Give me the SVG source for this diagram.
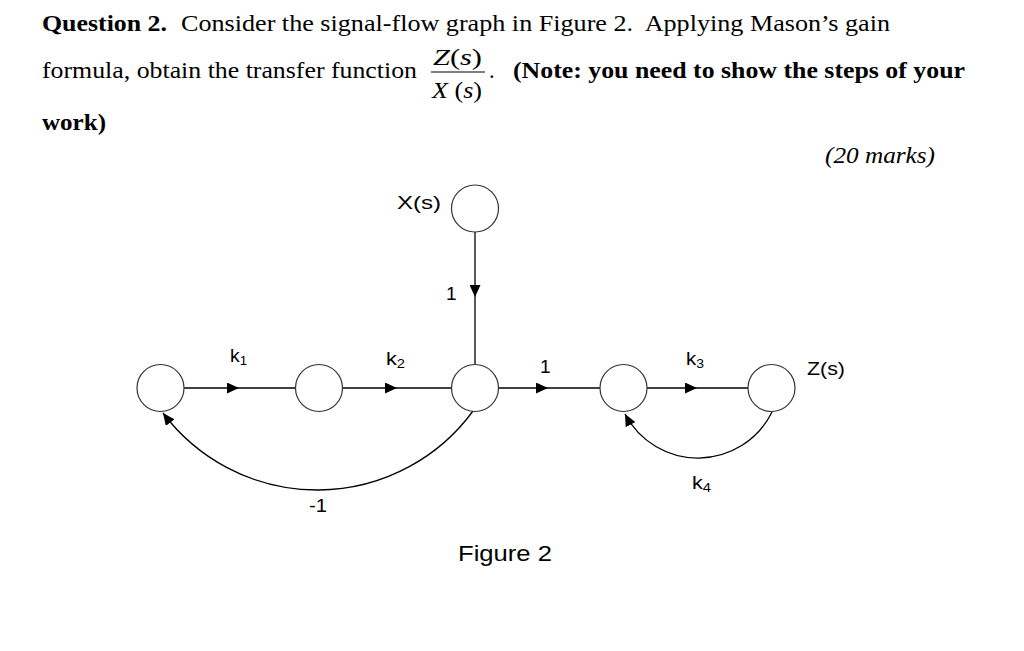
<svg xmlns="http://www.w3.org/2000/svg" width="1024" height="651" viewBox="0 0 1024 651">
<style>
.t{font-family:"Liberation Serif","Times New Roman",serif;font-size:22.5px;fill:#000}
.b{font-weight:bold}
.i{font-style:italic}
.l{font-family:"Liberation Sans",Arial,sans-serif;font-size:19px;fill:#000}
.sub{font-size:13px}
.node{fill:#fff;stroke:#333;stroke-width:1.2}
.edge{fill:none;stroke:#000;stroke-width:1.3}
</style>
<defs>
<marker id="ah" markerUnits="userSpaceOnUse" markerWidth="12" markerHeight="11" refX="12" refY="5.5" orient="auto" viewBox="0 0 12 11">
<path d="M0,0 L12,5.5 L0,11 z" fill="#000"/>
</marker>
</defs>
<rect width="1024" height="651" fill="#fff"/>
<g id="header">
<text class="t b" x="42" y="30.5" textLength="125" lengthAdjust="spacingAndGlyphs">Question 2.</text>
<text class="t" x="181" y="30.5" textLength="709" lengthAdjust="spacingAndGlyphs">Consider the signal-flow graph in Figure 2.&#160; Applying Mason’s gain</text>
<text class="t" x="42" y="78" textLength="375" lengthAdjust="spacingAndGlyphs">formula, obtain the transfer function</text>
<text class="t" x="433" y="65" textLength="49" lengthAdjust="spacingAndGlyphs"><tspan class="i">Z</tspan>(<tspan class="i">s</tspan>)</text>
<line x1="431" y1="72" x2="485" y2="72" stroke="#000" stroke-width="1.1"/>
<text class="t" x="432" y="98" textLength="50" lengthAdjust="spacingAndGlyphs"><tspan class="i">X</tspan> (<tspan class="i">s</tspan>)</text>
<text class="t" x="489" y="78">.</text>
<text class="t b" x="513" y="78" textLength="452" lengthAdjust="spacingAndGlyphs">(Note: you need to show the steps of your</text>
<text class="t b" x="42" y="130" textLength="64" lengthAdjust="spacingAndGlyphs">work)</text>
<text class="t i" x="825" y="163" textLength="110" lengthAdjust="spacingAndGlyphs">(20 marks)</text>
</g>
<g id="connectors">
<path class="edge" d="M184,388 L239,388 L296,388" marker-mid="url(#ah)"/>
<path class="edge" d="M342.5,388 L397,388 L451.5,388" marker-mid="url(#ah)"/>
<path class="edge" d="M498.5,388 L548,388 L600,388" marker-mid="url(#ah)"/>
<path class="edge" d="M647,388 L697,388 L748,388" marker-mid="url(#ah)"/>
<path class="edge" d="M475,232 L475,297 L475,364.5" marker-mid="url(#ah)"/>
<path class="edge" d="M473,411 A193,193 0 0,1 163,413" marker-end="url(#ah)"/>
<path class="edge" d="M772,412 A82.5,82.5 0 0,1 625,414" marker-end="url(#ah)"/>
</g>
<g id="n-x"><circle class="node" cx="475" cy="208.5" r="23.5"/><text class="l" x="397" y="209" textLength="44" lengthAdjust="spacingAndGlyphs">X(s)</text></g>
<g id="n1"><circle class="node" cx="160.5" cy="388" r="23.5"/></g>
<g id="n2"><circle class="node" cx="319" cy="388" r="23.5"/></g>
<g id="n3"><circle class="node" cx="475" cy="388" r="23.5"/></g>
<g id="n4"><circle class="node" cx="623.5" cy="388" r="23.5"/></g>
<g id="n-z"><circle class="node" cx="771.5" cy="388" r="23.5"/><text class="l" x="807" y="375" textLength="38" lengthAdjust="spacingAndGlyphs">Z(s)</text></g>
<g id="labels">
<text class="l" x="446" y="300">1</text>
<text class="l" x="230" y="362" textLength="17" lengthAdjust="spacingAndGlyphs">k<tspan class="sub" dy="2.5">1</tspan></text>
<text class="l" x="386" y="365" textLength="19" lengthAdjust="spacingAndGlyphs">k<tspan class="sub" dy="2.5">2</tspan></text>
<text class="l" x="540" y="373">1</text>
<text class="l" x="686" y="365" textLength="18" lengthAdjust="spacingAndGlyphs">k<tspan class="sub" dy="2.5">3</tspan></text>
<text class="l" x="692" y="489" textLength="19" lengthAdjust="spacingAndGlyphs">k<tspan class="sub" dy="2.5">4</tspan></text>
<text class="l" x="309" y="512" textLength="18" lengthAdjust="spacingAndGlyphs">-1</text>
<text class="l" x="458" y="561" style="font-size:22px" textLength="94" lengthAdjust="spacingAndGlyphs">Figure 2</text>
</g>
</svg>
